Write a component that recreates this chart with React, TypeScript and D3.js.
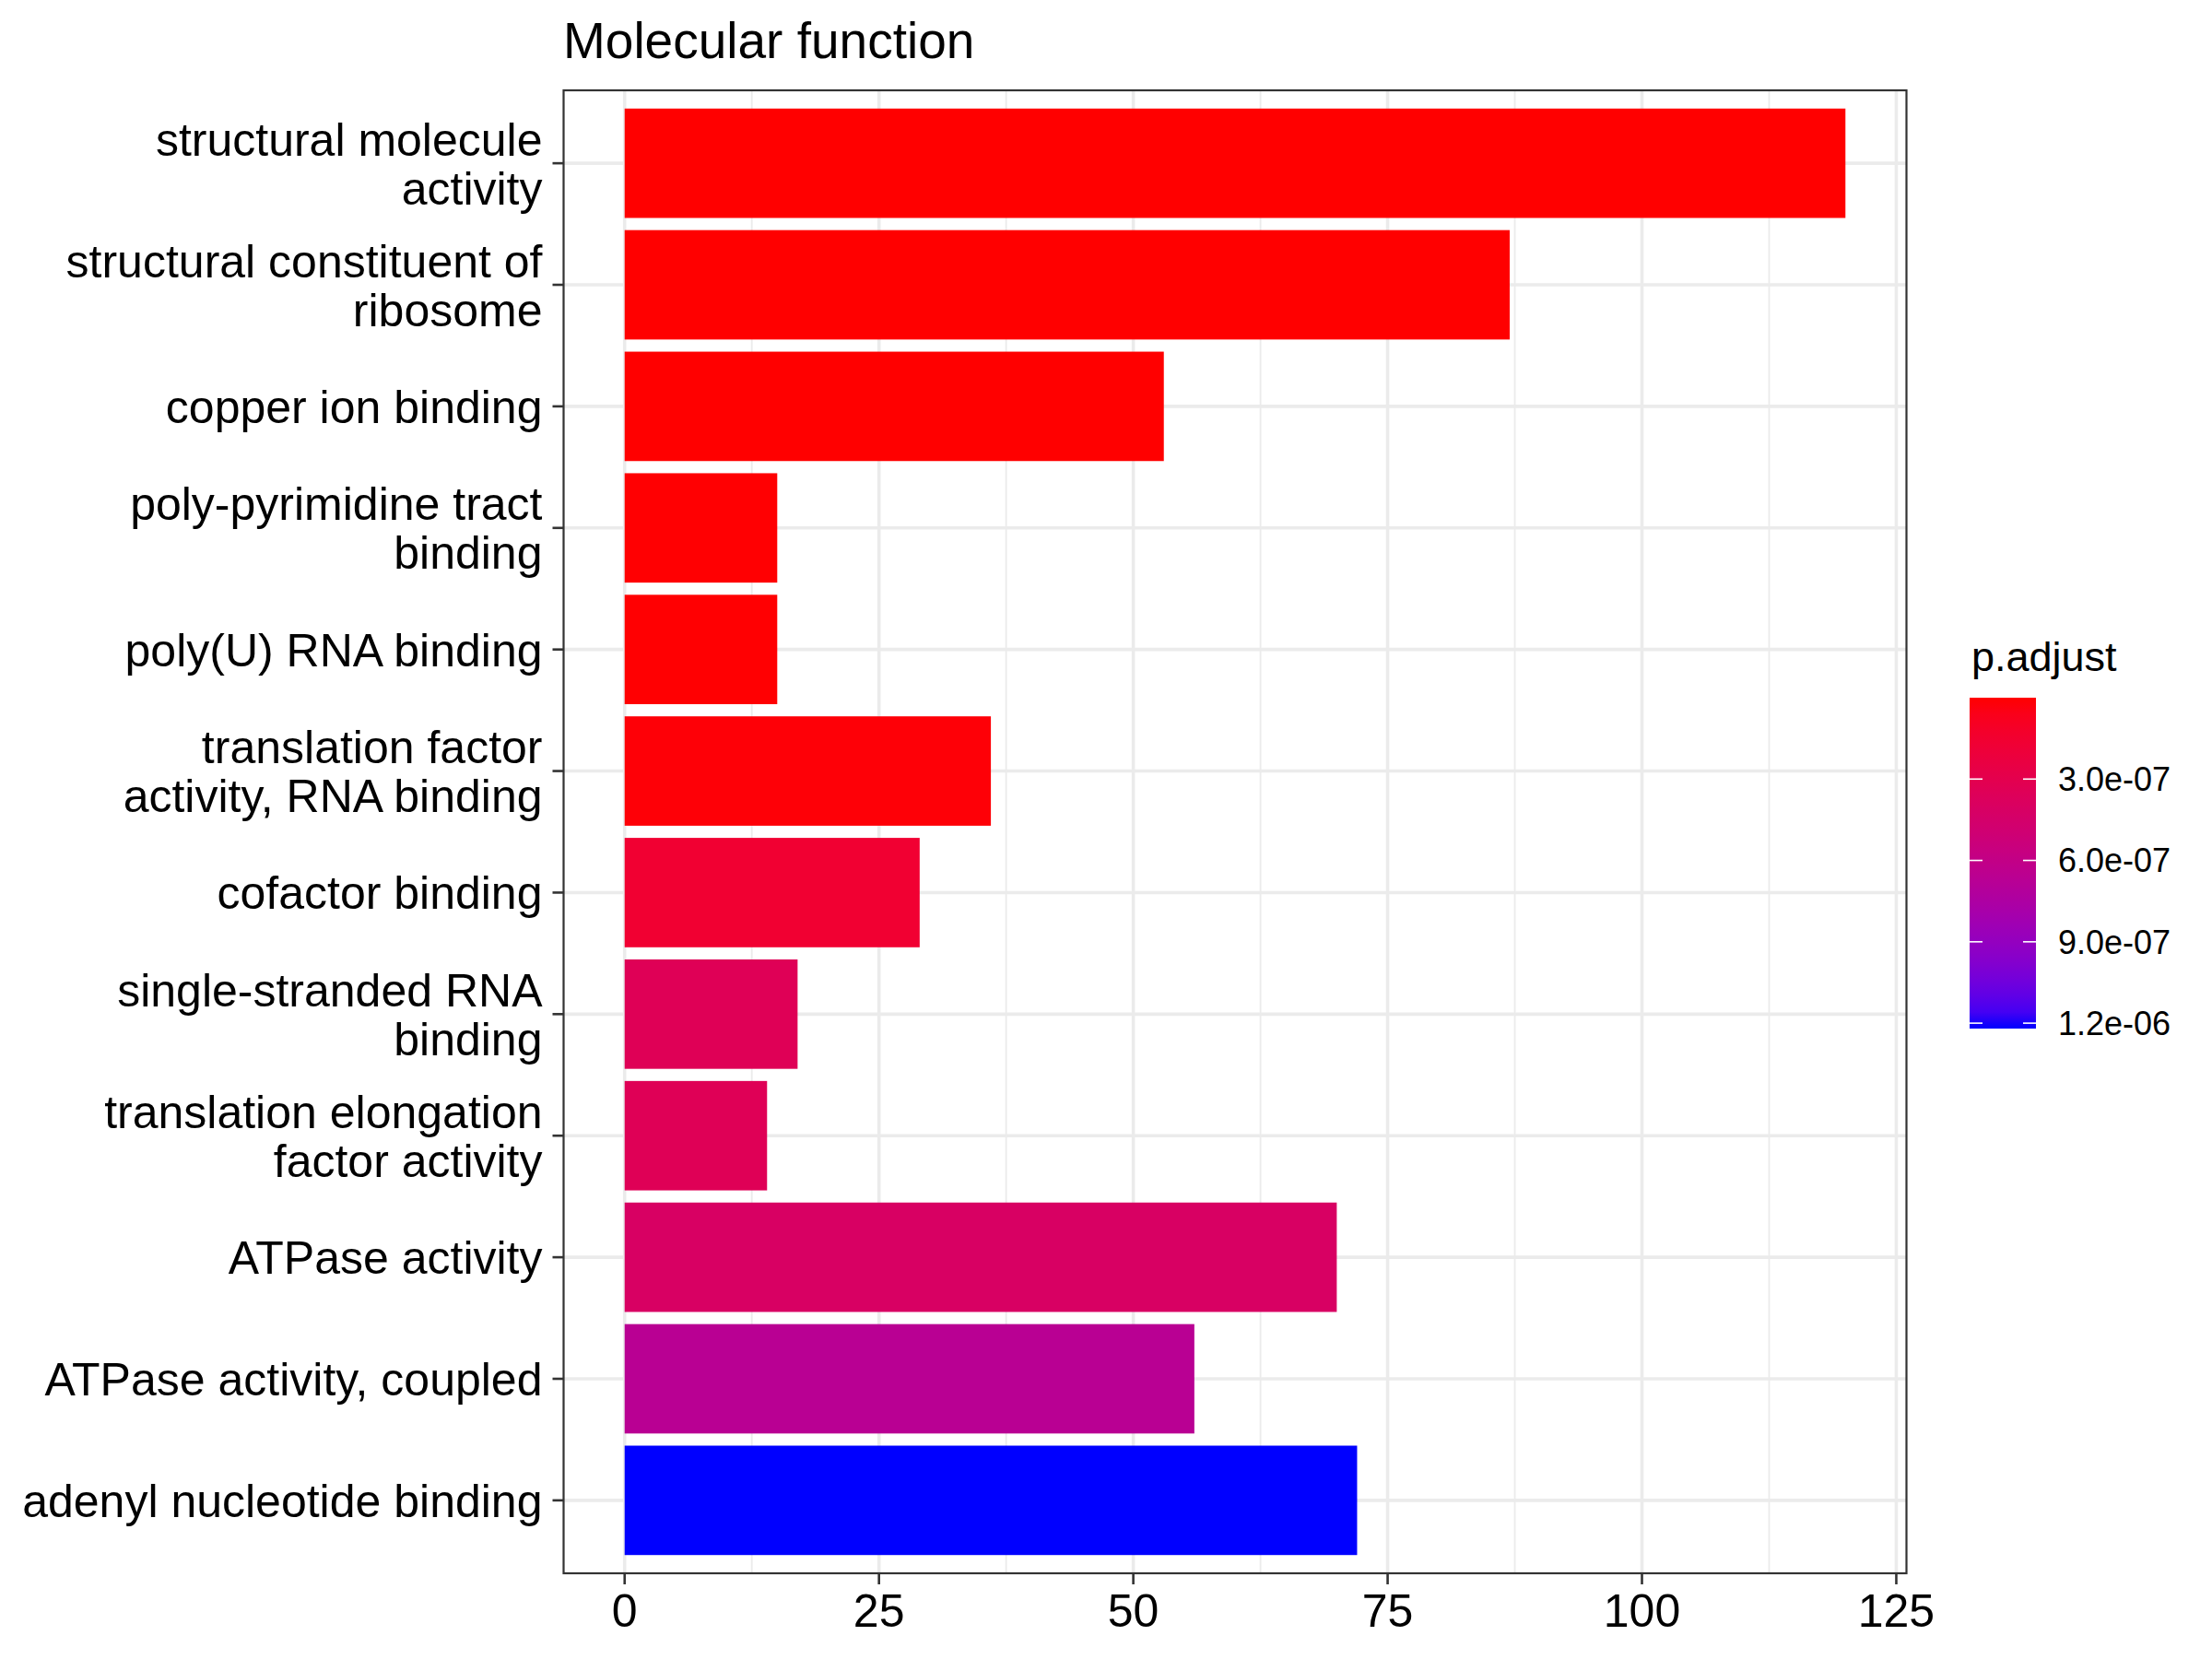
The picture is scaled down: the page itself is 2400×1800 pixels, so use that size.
import React, { useRef, useEffect } from 'react';
import * as d3 from 'd3';

// GO molecular function terms, top to bottom
const terms = [
  'structural molecule activity',
  'structural constituent of ribosome',
  'copper ion binding',
  'poly-pyrimidine tract binding',
  'poly(U) RNA binding',
  'translation factor activity, RNA binding',
  'cofactor binding',
  'single-stranded RNA binding',
  'translation elongation factor activity',
  'ATPase activity',
  'ATPase activity, coupled',
  'adenyl nucleotide binding',
];
const counts = [120, 87, 53, 15, 15, 36, 29, 17, 14, 70, 56, 72];
const pAdjust = [1.2e-30, 2.1e-25, 8.5e-12, 3.1e-9, 3.1e-9, 1.4e-8, 1.6e-7, 3.4e-7, 3.4e-7, 4.1e-7, 6.7e-7, 1.22e-6];
const xTicks = [0, 25, 50, 75, 100, 125];
const legendBreaks = [3e-7, 6e-7, 9e-7, 1.2e-6];

const FONT = '"Liberation Sans", Arial, Helvetica, sans-serif';

// greedy word wrap, like str_wrap
const wrap = (s: string, width: number) => {
  const lines: string[] = [];
  let cur = '';
  s.split(' ').forEach(w => {
    if (cur && (cur + ' ' + w).length > width) {
      lines.push(cur);
      cur = w;
    } else {
      cur = cur ? cur + ' ' + w : w;
    }
  });
  if (cur) lines.push(cur);
  return lines;
};

// "3.0e-7" -> "3.0e-07"
const sci = (v: number) => d3.format('.1e')(v).replace(/e([+-])(\d)$/, 'e$10$2');

const GoBarChart = () => {
  const ref = useRef<SVGSVGElement | null>(null);

  useEffect(() => {
    if (!ref.current) return;
    const svg = d3.select(ref.current);
    svg.selectAll('*').remove();

    const panel = { left: 611.5, right: 2068.5, top: 98, bottom: 1707 };

    const x = d3.scaleLinear().domain([-6, 126]).range([panel.left, panel.right]);
    const y = d3.scalePoint<string>()
      .domain(terms)
      .range([panel.top, panel.bottom])
      .padding(0.6);
    const barH = y.step() * 0.9;

    const pExtent = [0, d3.max(pAdjust) as number];
    const color = d3.scaleLinear<string>()
      .domain(pExtent)
      .range(['red', 'blue'])
      .interpolate(d3.interpolateLab);

    svg.append('rect')
      .attr('width', 2400).attr('height', 1800).attr('fill', '#ffffff');

    // panel grid
    const grid = svg.append('g');
    const minor = xTicks.slice(0, -1).map(t => t + 12.5);
    grid.selectAll('line.minor')
      .data(minor)
      .enter().append('line')
      .attr('x1', d => x(d)).attr('x2', d => x(d))
      .attr('y1', panel.top).attr('y2', panel.bottom)
      .attr('stroke', '#ebebeb').attr('stroke-width', 1.8);
    grid.selectAll('line.vmajor')
      .data(xTicks)
      .enter().append('line')
      .attr('x1', d => x(d)).attr('x2', d => x(d))
      .attr('y1', panel.top).attr('y2', panel.bottom)
      .attr('stroke', '#ebebeb').attr('stroke-width', 3.6);
    grid.selectAll('line.hmajor')
      .data(terms)
      .enter().append('line')
      .attr('x1', panel.left).attr('x2', panel.right)
      .attr('y1', d => y(d) as number).attr('y2', d => y(d) as number)
      .attr('stroke', '#ebebeb').attr('stroke-width', 3.6);

    // bars
    svg.append('g')
      .selectAll('rect')
      .data(terms)
      .enter().append('rect')
      .attr('x', x(0))
      .attr('y', d => (y(d) as number) - barH / 2)
      .attr('width', (d, i) => x(counts[i]) - x(0))
      .attr('height', barH)
      .attr('fill', (d, i) => color(pAdjust[i]));

    // panel border
    svg.append('rect')
      .attr('x', panel.left).attr('y', panel.top)
      .attr('width', panel.right - panel.left)
      .attr('height', panel.bottom - panel.top)
      .attr('fill', 'none').attr('stroke', '#333333').attr('stroke-width', 2.2);

    // x axis
    const xAxis = svg.append('g');
    xAxis.selectAll('line')
      .data(xTicks)
      .enter().append('line')
      .attr('x1', d => x(d)).attr('x2', d => x(d))
      .attr('y1', panel.bottom).attr('y2', panel.bottom + 12)
      .attr('stroke', '#333333').attr('stroke-width', 2.6);
    xAxis.selectAll('text')
      .data(xTicks)
      .enter().append('text')
      .attr('x', d => x(d)).attr('y', 1765)
      .attr('text-anchor', 'middle')
      .attr('font-family', FONT).attr('font-size', 50)
      .attr('fill', '#000000')
      .text(d => d);

    // y axis
    const yAxis = svg.append('g');
    yAxis.selectAll('line')
      .data(terms)
      .enter().append('line')
      .attr('x1', panel.left - 12).attr('x2', panel.left)
      .attr('y1', d => y(d) as number).attr('y2', d => y(d) as number)
      .attr('stroke', '#333333').attr('stroke-width', 2.6);
    const lineH = 53;
    yAxis.selectAll('text')
      .data(terms)
      .enter().append('text')
      .attr('text-anchor', 'end')
      .attr('font-family', FONT).attr('font-size', 50)
      .attr('fill', '#000000')
      .each(function (d) {
        const lines = wrap(d, 26);
        const cy = y(d) as number;
        d3.select(this).selectAll('tspan')
          .data(lines)
          .enter().append('tspan')
          .attr('x', 588.5)
          .attr('y', (l, i) => cy + 18 + (i - (lines.length - 1) / 2) * lineH)
          .text(l => l);
      });

    // title
    svg.append('text')
      .attr('x', 611).attr('y', 63)
      .attr('font-family', FONT).attr('font-size', 55)
      .attr('fill', '#000000')
      .text('Molecular function');

    // colour bar legend
    const leg = { x: 2137, w: 72, top: 757, bottom: 1116 };
    const ly = d3.scaleLinear().domain(pExtent).range([leg.top, leg.bottom]);
    const defs = svg.append('defs');
    const grad = defs.append('linearGradient')
      .attr('id', 'padj-grad')
      .attr('x1', 0).attr('x2', 0).attr('y1', 0).attr('y2', 1);
    d3.range(0, 1.0001, 0.05).forEach(t => {
      grad.append('stop')
        .attr('offset', t)
        .attr('stop-color', color(pExtent[0] + t * (pExtent[1] - pExtent[0])));
    });
    const legend = svg.append('g');
    legend.append('text')
      .attr('x', 2139).attr('y', 728)
      .attr('font-family', FONT).attr('font-size', 45)
      .attr('fill', '#000000')
      .text('p.adjust');
    legend.append('rect')
      .attr('x', leg.x).attr('y', leg.top)
      .attr('width', leg.w).attr('height', leg.bottom - leg.top)
      .attr('fill', 'url(#padj-grad)');
    legendBreaks.forEach(b => {
      const yy = ly(b);
      legend.append('line')
        .attr('x1', leg.x).attr('x2', leg.x + 14)
        .attr('y1', yy).attr('y2', yy)
        .attr('stroke', '#ffffff').attr('stroke-width', 1.6);
      legend.append('line')
        .attr('x1', leg.x + leg.w - 14).attr('x2', leg.x + leg.w)
        .attr('y1', yy).attr('y2', yy)
        .attr('stroke', '#ffffff').attr('stroke-width', 1.6);
      legend.append('text')
        .attr('x', 2233).attr('y', yy + 12.7)
        .attr('font-family', FONT).attr('font-size', 36)
        .attr('fill', '#000000')
        .text(sci(b));
    });
  }, []);

  return (
    <svg
      ref={ref}
      width={2400}
      height={1800}
      style={{ position: 'absolute', left: 0, top: 0, display: 'block' }}
    />
  );
};

export default function App() {
  return <GoBarChart />;
}
